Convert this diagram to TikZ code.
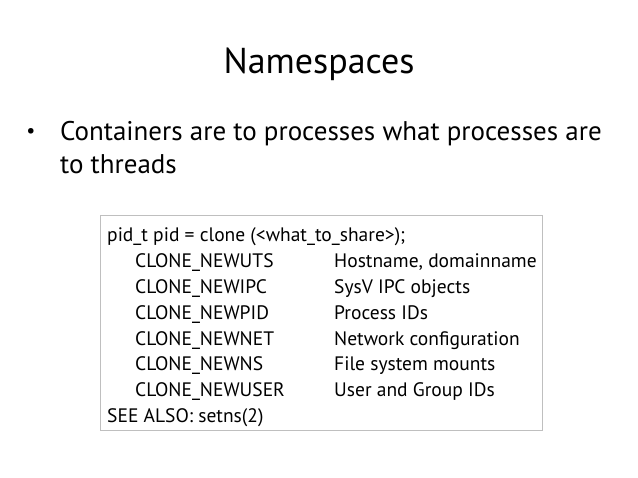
\documentclass[tikz,border=0pt]{standalone}
\usepackage{fontspec}
\setmainfont{PT Sans}
\begin{document}
\begin{tikzpicture}[x=1pt,y=-1pt,
  code/.style={anchor=base west,inner sep=0pt,font=\fontsize{19.5}{22}\selectfont},
  body/.style={anchor=base west,inner sep=0pt,font=\fontsize{27}{30}\selectfont}]
\useasboundingbox[fill=white] (0,0) rectangle (638,478);
\node[anchor=base,inner sep=0pt,font=\fontsize{36}{40}\selectfont] (title) at (319,74) {Namespaces};
\node[anchor=center,inner sep=0pt,font=\fontsize{20}{22}\selectfont] (bul) at (31,133) {\textbullet};
\node[body] (l1) at (60,141) {Containers are to processes what processes are};
\node[body] (l2) at (60,174) {to threads};
\draw[draw=black!25] (100,215) rectangle (542,430);
\node[code] (c0) at (107,242) {pid\_t pid = clone (<what\_to\_share>);};
\foreach \i/\a/\b in {1/CLONE\_NEWUTS/{Hostname, domainname},2/CLONE\_NEWIPC/{SysV IPC objects},3/CLONE\_NEWPID/{Process IDs},4/CLONE\_NEWNET/{Network configuration},5/CLONE\_NEWNS/{File system mounts},6/CLONE\_NEWUSER/{User and Group IDs}}{
  \node[code] (a\i) at (135,242+25.8*\i) {\a};
  \node[code] (b\i) at (334,242+25.8*\i) {\b};
}
\node[code] (c7) at (107,422.6) {SEE ALSO: setns(2)};
\end{tikzpicture}
\end{document}
